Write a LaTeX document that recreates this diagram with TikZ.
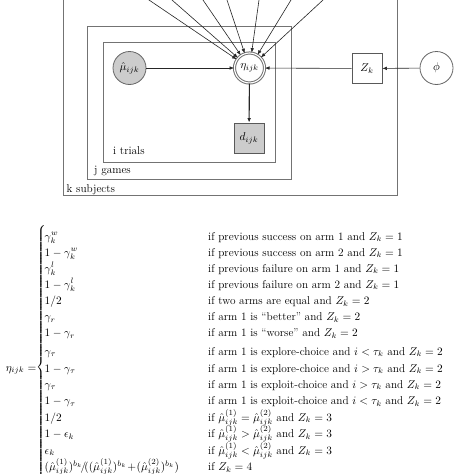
\RequirePackage{fix-cm}
\documentclass[tikz,border=0pt]{standalone}
\usepackage{amsmath}
\usetikzlibrary{arrows.meta}
\begin{document}
\begin{tikzpicture}[x=1pt,y=-1pt,
  every node/.style={font=\fontsize{11.3}{13.6}\selectfont},
  plate/.style={draw=black!55, line width=0.9pt},
  arr/.style={-{Latex[length=4.5pt,width=3.6pt]}, draw=black!85, line width=0.6pt},
  latent/.style={circle, draw=black!60, line width=0.8pt, minimum size=33pt, inner sep=0pt},
  dbl/.style={circle, draw=black!55, double=white, double distance=1.1pt, line width=1pt, minimum size=30pt, inner sep=0pt},
  rectnode/.style={rectangle, draw=black!65, line width=0.8pt, minimum width=30pt, minimum height=29.5pt, inner sep=0pt},
  obs/.style={fill=black!20},
  txt/.style={anchor=base west, inner sep=0pt},
]
\useasboundingbox (0,0) rectangle (474,474);
\clip (0,0) rectangle (474,474);
\fill[white] (0,0) rectangle (474,474);

% plates
\draw[plate] (63,-10) rectangle (397,195);
\draw[plate] (87,26) rectangle (291,179);
\draw[plate] (103,42) rectangle (275,162);
\node[txt] (lk) at (66.5,192) {k subjects};
\node[txt] (lj) at (94,173) {j games};
\node[txt] (li) at (113,154) {i trials};

% nodes
\node[latent, obs] (mu) at (129.5,68) {$\hat\mu_{ijk}$};
\node[dbl] (eta) at (249.5,68) {$\eta_{ijk}$};
\node[rectnode] (Z) at (367,68.5) {$Z_k$};
\node[latent] (phi) at (436.5,68) {$\phi$};
\node[rectnode, obs, minimum height=30pt] (d) at (249,138) {$d_{ijk}$};

% incoming arrows from parents above the view
\coordinate (t1) at (149,0);
\coordinate (t2) at (172,0);
\coordinate (t3) at (203,0);
\coordinate (t4) at (227,0);
\coordinate (t5) at (259,0);
\coordinate (t6) at (291,0);
\coordinate (t7) at (323,0);
\foreach \t in {t1,t2,t3,t4,t5,t6,t7}
  \draw[arr, shorten <=-10pt] (\t) -- (eta);

\draw[arr] (mu) -- (eta);
\draw[arr] (Z) -- (eta);
\draw[arr] (phi) -- (Z);
\draw[arr, line width=1.1pt] (eta) -- (d);

% equation
\node[anchor=base east, inner sep=0pt] (lhs) at (36.5,371) {$\eta_{ijk} =$};
\node[anchor=west, inner sep=0pt] (brace) at (36,367) {$\left\{\vcenter{\hrule height 284pt width 0pt}\right.$};

\node[txt] (a1) at (44.5,240) {$\gamma_k^w$};
\node[txt] (a2) at (44.5,256) {$1-\gamma_k^w$};
\node[txt] (a3) at (44.5,272) {$\gamma_k^l$};
\node[txt] (a4) at (44.5,288) {$1-\gamma_k^l$};
\node[txt] (a5) at (44.5,304.5) {$1/2$};
\node[txt] (a6) at (44.5,320.5) {$\gamma_r$};
\node[txt] (a7) at (44.5,336.5) {$1-\gamma_r$};
\node[txt] (a8) at (44.5,355) {$\gamma_\tau$};
\node[txt] (a9) at (44.5,372) {$1-\gamma_\tau$};
\node[txt] (a10) at (44.5,388) {$\gamma_\tau$};
\node[txt] (a11) at (44.5,404.5) {$1-\gamma_\tau$};
\node[txt] (a12) at (44.5,421) {$1/2$};
\node[txt] (a13) at (44.5,437.5) {$1-\epsilon_k$};
\node[txt] (a14) at (44.5,454) {$\epsilon_k$};
\node[txt] (a15) at (44.5,470.5) {$(\hat\mu^{(1)}_{ijk})^{b_k}\!/\!((\hat\mu^{(1)}_{ijk})^{b_k}\!+\!(\hat\mu^{(2)}_{ijk})^{b_k})$};

\node[txt] (c1) at (208,240) {if previous success on arm 1 and $Z_k=1$};
\node[txt] (c2) at (208,256) {if previous success on arm 2 and $Z_k=1$};
\node[txt] (c3) at (208,272) {if previous failure on arm 1 and $Z_k=1$};
\node[txt] (c4) at (208,288) {if previous failure on arm 2 and $Z_k=1$};
\node[txt] (c5) at (208,304.5) {if two arms are equal and $Z_k=2$};
\node[txt] (c6) at (208,320.5) {if arm 1 is ``better'' and $Z_k=2$};
\node[txt] (c7) at (208,336.5) {if arm 1 is ``worse'' and $Z_k=2$};
\node[txt] (c8) at (208,355) {if arm 1 is explore-choice and $i<\tau_k$ and $Z_k=2$};
\node[txt] (c9) at (208,372) {if arm 1 is explore-choice and $i>\tau_k$ and $Z_k=2$};
\node[txt] (c10) at (208,388) {if arm 1 is exploit-choice and $i>\tau_k$ and $Z_k=2$};
\node[txt] (c11) at (208,404.5) {if arm 1 is exploit-choice and $i<\tau_k$ and $Z_k=2$};
\node[txt] (c12) at (208,421) {if $\hat\mu^{(1)}_{ijk}=\hat\mu^{(2)}_{ijk}$ and $Z_k=3$};
\node[txt] (c13) at (208,437.5) {if $\hat\mu^{(1)}_{ijk}>\hat\mu^{(2)}_{ijk}$ and $Z_k=3$};
\node[txt] (c14) at (208,454) {if $\hat\mu^{(1)}_{ijk}<\hat\mu^{(2)}_{ijk}$ and $Z_k=3$};
\node[txt] (c15) at (208,470.5) {if $Z_k=4$};
\end{tikzpicture}
\end{document}
